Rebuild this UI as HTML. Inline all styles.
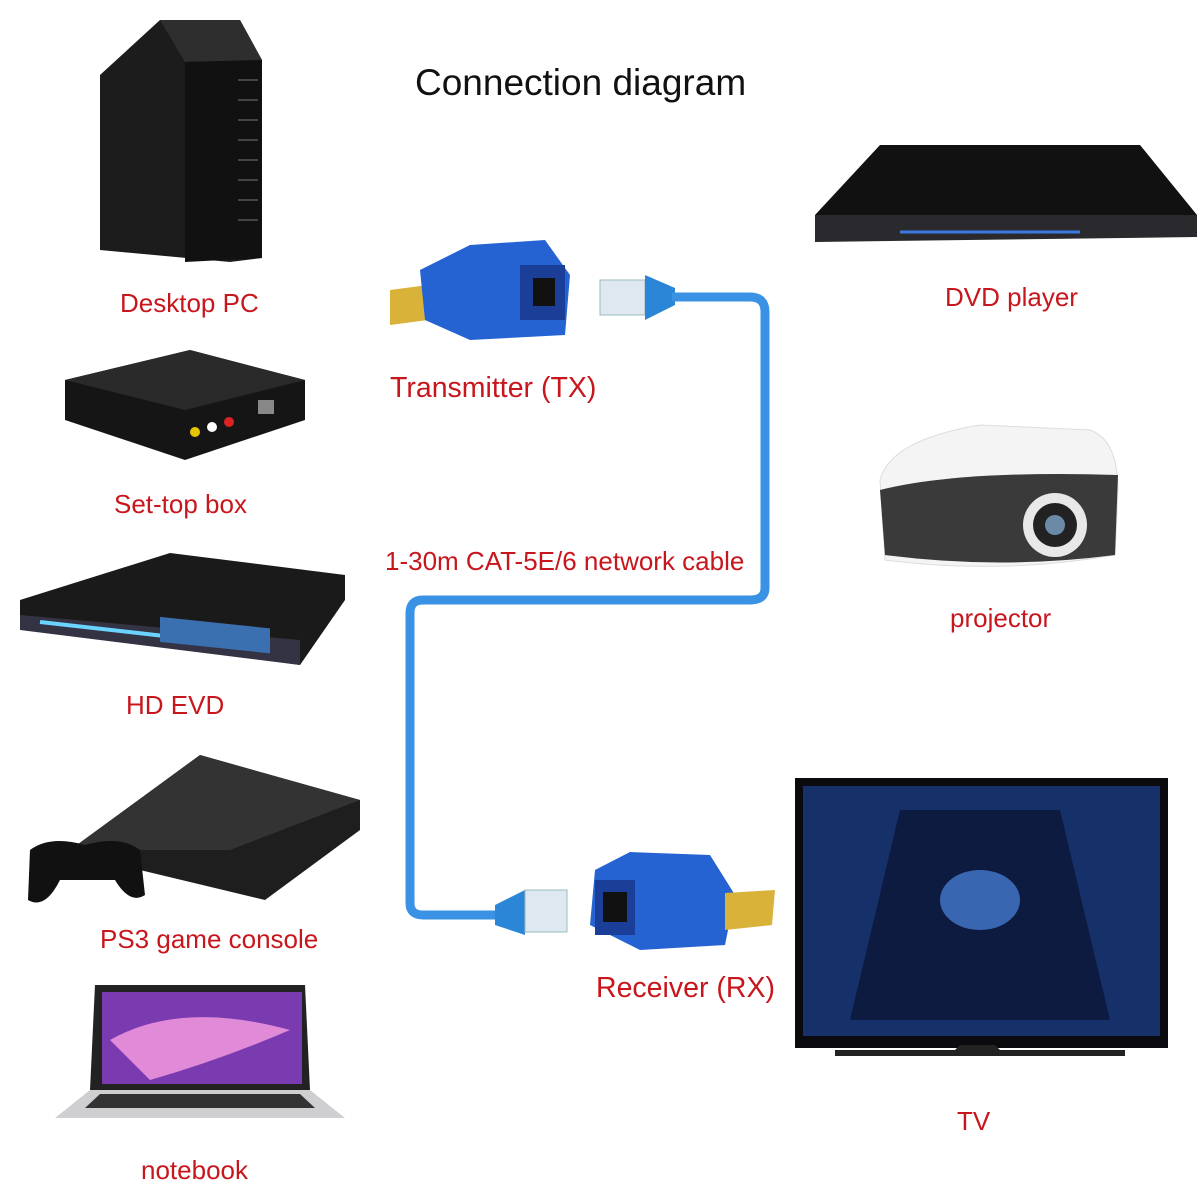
<!DOCTYPE html>
<html><head><meta charset="utf-8"><style>
html,body{margin:0;padding:0;background:#fff;}
svg{display:block}
text{font-family:"Liberation Sans",sans-serif;}
.r{fill:#c8161d;font-size:26px;}
.b{font-size:28.5px;}
</style></head><body>
<svg width="1200" height="1200" viewBox="0 0 1200 1200" xmlns="http://www.w3.org/2000/svg">
<rect width="1200" height="1200" fill="#fff"/>
<text x="415" y="95" font-size="37" fill="#111">Connection diagram</text>

<polygon points="100,75 160,20 240,20 262,60 262,258 230,262 100,250" fill="#1c1c1c"/>
<polygon points="160,20 240,20 262,60 185,62" fill="#2e2e2e"/>
<polygon points="185,62 262,60 262,258 185,262" fill="#111"/>
<g stroke="#444" stroke-width="2">
<line x1="238" y1="80" x2="258" y2="80"/><line x1="238" y1="100" x2="258" y2="100"/><line x1="238" y1="120" x2="258" y2="120"/><line x1="238" y1="140" x2="258" y2="140"/><line x1="238" y1="160" x2="258" y2="160"/><line x1="238" y1="180" x2="258" y2="180"/><line x1="238" y1="200" x2="258" y2="200"/><line x1="238" y1="220" x2="258" y2="220"/></g>
<text class="r" x="120" y="312">Desktop PC</text>

<polygon points="65,380 190,350 305,380 305,420 185,460 65,420" fill="#151515"/>
<polygon points="65,380 190,350 305,380 185,410" fill="#2a2a2a"/>
<circle cx="195" cy="432" r="5" fill="#e6c400"/><circle cx="212" cy="427" r="5" fill="#fff"/><circle cx="229" cy="422" r="5" fill="#d22"/>
<rect x="258" y="400" width="16" height="14" fill="#888"/>
<text class="r" x="114" y="513">Set-top box</text>

<polygon points="20,600 170,553 345,575 345,600 300,665 20,625" fill="#1a1a1a"/>
<polygon points="20,615 300,640 300,665 20,630" fill="#334" />
<line x1="40" y1="622" x2="200" y2="640" stroke="#6bd3ff" stroke-width="4"/>
<rect x="160" y="600" width="110" height="25" fill="#3a6fb0" transform="skewY(6)"/>
<text class="r" x="126" y="714">HD EVD</text>

<polygon points="70,850 200,755 360,800 360,830 265,900 140,870" fill="#1e1e1e"/>
<polygon points="70,850 200,755 360,800 230,850" fill="#333"/>
<path d="M30,850 Q50,835 85,845 Q120,835 140,850 L145,895 Q130,905 115,880 L60,880 Q45,910 28,900 Z" fill="#111"/>
<text class="r" x="100" y="948">PS3 game console</text>

<polygon points="95,985 305,985 310,1090 90,1090" fill="#222"/>
<rect x="102" y="992" width="200" height="92" fill="#7a3ab0"/>
<path d="M110,1040 Q180,1000 290,1030 Q220,1060 150,1080 Z" fill="#e08ad8"/>
<polygon points="90,1090 310,1090 345,1118 55,1118" fill="#cfcfd2"/>
<polygon points="100,1094 300,1094 315,1108 85,1108" fill="#333"/>
<text class="r" x="141" y="1179">notebook</text>

<polygon points="390,290 428,285 428,320 390,325" fill="#d9b23a"/>
<polygon points="420,270 470,245 545,240 570,275 565,335 470,340 425,320" fill="#2563d3"/>
<rect x="520" y="265" width="45" height="55" fill="#1b3f98"/>
<rect x="533" y="278" width="22" height="28" fill="#111"/>
<text class="r b" x="390" y="397">Transmitter (TX)</text>
<rect x="600" y="280" width="45" height="35" fill="#dfe8f0" stroke="#9bb" />
<polygon points="645,275 675,288 675,305 645,320" fill="#2b86d8"/>

<path d="M672,297 L750,297 Q765,297 765,312 L765,588 Q765,600 750,600 L423,600 Q410,600 410,613 L410,903 Q410,915 423,915 L500,915" fill="none" stroke="#3a92e4" stroke-width="9"/>
<text class="r" x="385" y="570">1-30m CAT-5E/6 network cable</text>

<polygon points="495,905 525,890 525,935 495,925" fill="#2b86d8"/>
<rect x="525" y="890" width="42" height="42" fill="#dfe8f0" stroke="#9bb"/>
<polygon points="595,870 630,852 710,855 735,895 725,945 640,950 590,925" fill="#2563d3"/>
<rect x="595" y="880" width="40" height="55" fill="#1b3f98"/>
<rect x="603" y="892" width="24" height="30" fill="#111"/>
<polygon points="725,893 775,890 772,925 725,930" fill="#d9b23a"/>
<text class="r b" x="596" y="997">Receiver (RX)</text>

<polygon points="815,215 880,145 1140,145 1197,215 1197,235 815,240" fill="#111"/>
<polygon points="815,215 1197,215 1197,237 815,242" fill="#2a2a2e"/>
<line x1="900" y1="232" x2="1080" y2="232" stroke="#3b7be0" stroke-width="3"/>
<text class="r" x="945" y="306">DVD player</text>

<path d="M880,480 Q890,440 980,425 L1090,430 Q1118,440 1118,490 L1115,555 Q1000,575 885,560 Z" fill="#f4f4f4" stroke="#ddd"/>
<path d="M880,490 Q960,470 1118,475 L1115,555 Q1000,570 885,555 Z" fill="#3a3a3a"/>
<circle cx="1055" cy="525" r="32" fill="#e8e8e8"/>
<circle cx="1055" cy="525" r="22" fill="#222"/>
<circle cx="1055" cy="525" r="10" fill="#6a8aa8"/>
<text class="r" x="950" y="627">projector</text>

<rect x="795" y="778" width="373" height="270" fill="#0b0b0f"/>
<rect x="803" y="786" width="357" height="250" fill="#16306a"/>
<polygon points="900,810 1060,810 1110,1020 850,1020" fill="#0d1b40"/>
<ellipse cx="980" cy="900" rx="40" ry="30" fill="#4d86e0" opacity=".7"/>
<polygon points="960,1045 995,1045 1000,1050 1125,1050 1125,1056 835,1056 835,1050 955,1050" fill="#222"/>
<text class="r" x="957" y="1130">TV</text>
</svg>
</body></html>
